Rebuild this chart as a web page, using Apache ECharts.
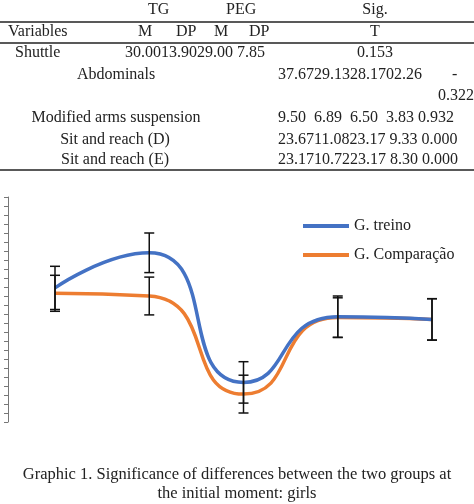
<!DOCTYPE html><html><head><meta charset="utf-8">
<script src="https://cdn.jsdelivr.net/npm/echarts@6/dist/echarts.min.js"></script>
<style>html,body{margin:0;background:#fff}#c{width:474px;height:504px}</style></head><body><div id="c"></div>
<script>
const categories=['Shuttle','Abdominals','Modified arms suspension','Sit and reach (D)','Sit and reach (E)'];
const treino=[14.9,18.8,4.4,11.7,11.4];
const treinoErr=[2.4,2.2,2.3,2.3,2.3];
const comp=[14.3,14.0,3.1,11.6,11.4];
const compErr=[2.0,2.1,2.1,2.2,2.3];
const F='"Liberation Serif","DejaVu Serif",serif';
function T(x,y,s,align,sz){return {type:'text',x:x,y:y,style:{text:s,font:(sz||16)+'px '+F,fill:'#222',textAlign:align||'left',textVerticalAlign:'middle'}};}
function L(y){return {type:'line',shape:{x1:0,y1:y,x2:474,y2:y},style:{stroke:'#222',lineWidth:1.5}};}
const graphic=[
 T(148,10,'TG'),T(226,10,'PEG'),T(375,10,'Sig.','center'),L(22),
 T(8,32,'Variables'),T(138,32,'M'),T(176,32,'DP'),T(214,32,'M'),T(249,32,'DP'),T(375,32,'T','center'),L(43),
 T(15,53,'Shuttle'),T(125,53,'30.0013.9029.00 7.85'),T(375,53,'0.153','center'),
 T(116,75,'Abdominals','center'),T(278,75,'37.6729.1328.1702.26'),T(452,75,'-'),
 T(474,96,'0.322','right'),
 T(116,118,'Modified arms suspension','center'),T(278,118,'9.50  6.89  6.50  3.83 0.932'),
 T(115,140,'Sit and reach (D)','center'),T(278,140,'23.6711.0823.17 9.33 0.000'),
 T(115,160,'Sit and reach (E)','center'),T(278,160,'23.1710.7223.17 8.30 0.000'),L(170),
 T(237,475,'Graphic 1. Significance of differences between the two groups at','center',16.5),
 T(237,494,'the initial moment: girls','center',16.5)
];
function errSeries(vals,errs){return {type:'custom',z:5,data:vals.map((v,i)=>[i,v-errs[i],v+errs[i]]),
 renderItem:(p,api)=>{const lo=api.coord([api.value(0),api.value(1)]),hi=api.coord([api.value(0),api.value(2)]);const w=5;
 const st={stroke:'#111',lineWidth:1.5};
 return {type:'group',children:[{type:'line',shape:{x1:lo[0],y1:lo[1],x2:hi[0],y2:hi[1]},style:st},
 {type:'line',shape:{x1:lo[0]-w,y1:lo[1],x2:lo[0]+w,y2:lo[1]},style:st},
 {type:'line',shape:{x1:hi[0]-w,y1:hi[1],x2:hi[0]+w,y2:hi[1]},style:st}]};}};}
const ch=echarts.init(document.getElementById('c'));
ch.setOption({animation:false,graphic:graphic,
 grid:{left:55,right:42,top:197,height:225},
 legend:{orient:'vertical',left:298,top:213,itemGap:13,itemWidth:46,itemHeight:4,icon:'rect',
  textStyle:{fontFamily:F,fontSize:16,color:'#222'},data:['G. treino','G. Comparação']},
 xAxis:{type:'category',data:categories,boundaryGap:false,show:false},
 yAxis:{type:'value',min:0,max:25,interval:1,offset:47,axisLine:{show:true,lineStyle:{color:'#777'}},
  axisTick:{show:true,length:4,lineStyle:{color:'#777'}},axisLabel:{show:false},splitLine:{show:false}},
 series:[
  {name:'G. treino',type:'line',data:treino,smooth:0.6,symbol:'none',lineStyle:{width:3.5,color:'#4472C4'},itemStyle:{color:'#4472C4'},z:3},
  {name:'G. Comparação',type:'line',data:comp,smooth:0.6,symbol:'none',lineStyle:{width:3.5,color:'#ED7D31'},itemStyle:{color:'#ED7D31'},z:2},
  errSeries(treino,treinoErr),errSeries(comp,compErr)
 ]});
</script></body></html>
